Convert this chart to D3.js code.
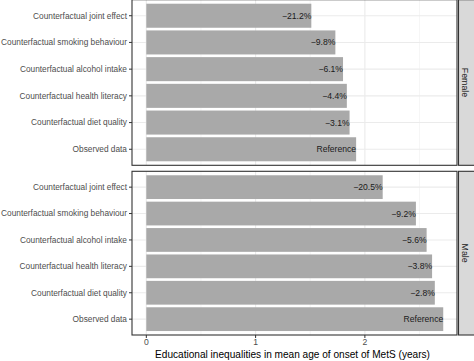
<!DOCTYPE html>
<html><head><meta charset="utf-8">
<script src="https://cdn.jsdelivr.net/npm/d3@7"></script>
<style>body{margin:0;background:#fff}svg{display:block}</style>
</head><body><svg id="c" width="474" height="361"></svg>
<script>
const categories = ["Observed data","Counterfactual diet quality","Counterfactual health literacy","Counterfactual alcohol intake","Counterfactual smoking behaviour","Counterfactual joint effect"];
const panels = ["Female","Male"];
const femaleValues = [1.92,1.86,1.835,1.80,1.73,1.51];
const maleValues = [2.717,2.64,2.615,2.565,2.467,2.163];
const femaleLabels = ["Reference","\u22123.1%","\u22124.4%","\u22126.1%","\u22129.8%","\u221221.2%"];
const maleLabels = ["Reference","\u22122.8%","\u22123.8%","\u22125.6%","\u22129.2%","\u221220.5%"];
const xTicks = [0,1,2];
const xMinor = [0.5,1.5,2.5];
const xTitle = "Educational inequalities in mean age of onset of MetS (years)";

const svg = d3.select("#c");
const L = 132, R = 457;
const panelBoxes = [{top:-0.3,bottom:165.3},{top:171.3,bottom:335}];
const x = d3.scaleLinear().domain([-0.131,2.843]).range([L,R]);
const font = "Liberation Sans, Arial, sans-serif";

const data = [femaleValues, maleValues];
const labels = [femaleLabels, maleLabels];

panels.forEach((p,i)=>{
  const box = panelBoxes[i];
  const y = d3.scaleLinear().domain([0.4, 6.6]).range([box.bottom, box.top]);
  const g = svg.append("g");
  g.append("rect").attr("x",L).attr("y",box.top).attr("width",R-L).attr("height",box.bottom-box.top).attr("fill","#fff");
  xMinor.forEach(v=>g.append("line").attr("x1",x(v)).attr("x2",x(v)).attr("y1",box.top).attr("y2",box.bottom).attr("stroke","#f0f0f0").attr("stroke-width",0.6));
  xTicks.forEach(v=>g.append("line").attr("x1",x(v)).attr("x2",x(v)).attr("y1",box.top).attr("y2",box.bottom).attr("stroke","#ebebeb").attr("stroke-width",1.1));
  categories.forEach((c,k)=>g.append("line").attr("x1",L).attr("x2",R).attr("y1",y(k+1)).attr("y2",y(k+1)).attr("stroke","#ebebeb").attr("stroke-width",1.1));
  const bh = y(0.55)-y(1.45);
  const vals = data[i];
  g.selectAll("rect.bar").data(vals).join("rect").attr("class","bar")
    .attr("x",x(0)).attr("y",(d,k)=>y(k+1.45)).attr("width",d=>x(d)-x(0)).attr("height",bh).attr("fill","#a9a9a9");
  g.selectAll("text.val").data(vals).join("text").attr("class","val")
    .attr("x",d=>x(d)).attr("y",(d,k)=>y(k+1)).attr("dy","0.35em").attr("text-anchor","end")
    .attr("font-family",font).attr("font-size",8.6).attr("fill","#1a1a1a").text((d,k)=>labels[i][k]);
  g.append("rect").attr("x",L).attr("y",box.top).attr("width",R-L).attr("height",box.bottom-box.top).attr("fill","none").attr("stroke","#333").attr("stroke-width",1.1);
  categories.forEach((c,k)=>{
    g.append("line").attr("x1",L-3).attr("x2",L).attr("y1",y(k+1)).attr("y2",y(k+1)).attr("stroke","#333").attr("stroke-width",1);
    g.append("text").attr("x",L-5).attr("y",y(k+1)).attr("dy","0.35em").attr("text-anchor","end")
      .attr("font-family",font).attr("font-size",8.3).attr("fill","#4d4d4d").text(c);
  });
  g.append("rect").attr("x",R+1.5).attr("y",box.top).attr("width",20).attr("height",box.bottom-box.top).attr("fill","#d9d9d9").attr("stroke","#333").attr("stroke-width",1.1);
  const cy = (box.top+box.bottom)/2;
  g.append("text").attr("transform",`translate(${R+8.5},${cy}) rotate(90)`).attr("text-anchor","middle").attr("dy","0.35em")
    .attr("font-family",font).attr("font-size",8.8).attr("fill","#1a1a1a").text(p);
});

const bb = panelBoxes[1].bottom;
xTicks.forEach(v=>{
  svg.append("line").attr("x1",x(v)).attr("x2",x(v)).attr("y1",bb).attr("y2",bb+3).attr("stroke","#333").attr("stroke-width",1);
  svg.append("text").attr("x",x(v)).attr("y",bb+10).attr("text-anchor","middle").attr("font-family",font).attr("font-size",8.6).attr("fill","#4d4d4d").text(v);
});
svg.append("text").attr("x",(L+R)/2 - 2).attr("y",357.5).attr("text-anchor","middle").attr("font-family",font).attr("font-size",10.1).attr("fill","#000").text(xTitle);
</script></body></html>
